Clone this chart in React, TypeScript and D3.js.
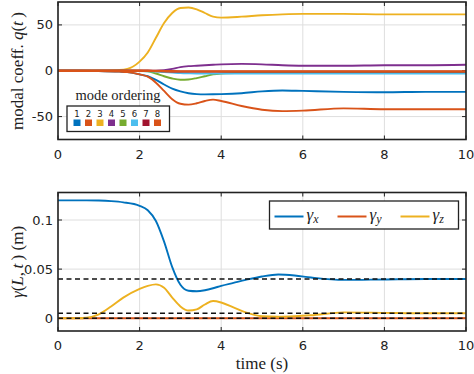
import * as d3 from 'd3';

const W = 474;
const H = 374;

// top panel: modal coefficients
const T1 = [0, 0.5, 1, 1.5, 1.7, 2, 2.2, 2.4, 2.6, 2.8, 3.0, 3.2, 3.4, 3.6, 3.8, 4.0, 4.5, 5, 5.5, 6, 7, 8, 9, 10];
const mode1 = [0, 0, -0.3, -1, -1.5, -4, -6, -10, -15, -19.5, -22.5, -24.5, -25.5, -25.8, -25.7, -25.5, -24.5, -22.5, -21.5, -22, -23, -23.5, -23, -23];
const mode2 = [0, 0, -0.3, -1, -1.5, -4, -6.5, -13, -22, -31, -36, -37, -35.5, -33, -31.5, -33, -38.5, -42.5, -44, -43.5, -41, -42, -42, -42];
const mode3 = [0, 0, 0.2, 0.8, 2, 10, 20, 36, 52, 63, 68.5, 69, 67, 63, 59, 58, 59, 60.5, 61.5, 62, 62, 61.5, 61.5, 61.5];
const mode4 = [0, 0, 0, 0, 0, 0, 0, 0, 0.5, 2, 4, 5, 5.5, 6, 6.5, 7, 7.5, 7, 6, 5.5, 5.5, 6, 6, 6.5];
const mode5 = [0, 0, 0, 0, 0, 0, -0.5, -3, -6, -8.5, -9.8, -9.5, -8, -6, -4, -3, -2.2, -2, -2, -2, -2, -2, -2, -2];
const mode6 = [0, 0, 0, 0, 0, -0.3, -0.6, -1, -1.5, -2, -2.5, -2.8, -3, -3, -3, -3, -3, -3, -3, -3, -3, -3, -3, -3];
const mode7 = [0, 0, 0, 0, 0, 0, 0, -0.3, -0.5, -0.8, -1, -1, -1, -1, -1, -1, -1, -1, -1, -1, -1, -1, -1, -1];
const mode8 = [0, 0, 0, 0, 0, 0, 0, -0.2, -0.4, -0.6, -0.7, -0.7, -0.7, -0.7, -0.7, -0.7, -0.7, -0.7, -0.7, -0.7, -0.7, -0.7, -0.7, -0.7];
const MODES = [mode1, mode2, mode3, mode4, mode5, mode6, mode7, mode8];
const MODE_COLORS = ['#0072BD', '#D95319', '#EDB120', '#7E2F8E', '#77AC30', '#4DBEEE', '#A2142F', '#D95319'];
const MODE_LABELS = ['1', '2', '3', '4', '5', '6', '7', '8'];

// bottom panel: tip deflection
const T2 = [0, 0.5, 0.7, 1, 1.3, 1.6, 2, 2.2, 2.4, 2.6, 2.8, 3.0, 3.2, 3.4, 3.6, 3.8, 4.0, 4.3, 4.6, 5, 5.4, 5.8, 6.2, 7, 8, 9, 10];
const gx = [0.12, 0.12, 0.12, 0.1198, 0.1192, 0.118, 0.1145, 0.11, 0.099, 0.078, 0.052, 0.034, 0.028, 0.0275, 0.0285, 0.0305, 0.033, 0.036, 0.039, 0.0425, 0.0445, 0.0435, 0.0415, 0.039, 0.0395, 0.04, 0.04];
const gy = T2.map(() => 0);
const gz = [0, 0, 0.0005, 0.004, 0.012, 0.021, 0.03, 0.033, 0.0345, 0.031, 0.021, 0.012, 0.0078, 0.009, 0.014, 0.0175, 0.016, 0.011, 0.006, 0.002, 0.0015, 0.002, 0.003, 0.006, 0.0055, 0.005, 0.005];
const GAMMA = [gx, gy, gz];
const GAMMA_COLORS = ['#0072BD', '#D95319', '#EDB120'];
const GAMMA_SUBS = ['x', 'y', 'z'];
const REF_LEVELS = [0.04, 0.005, 0];

const X_TICKS = [0, 2, 4, 6, 8, 10];
const Y1_TICKS = [-50, 0, 50];
const Y2_TICKS = [0, 0.05, 0.1];
const Y2_TICK_LABELS = ['0', '0.05', '0.1'];

const LEFT = 58;
const RIGHT = 466;
const TICK_FONT = '"DejaVu Sans", sans-serif';
const SERIF = '"Liberation Serif", "DejaVu Serif", serif';

const x = d3.scaleLinear().domain([0, 10]).range([LEFT, RIGHT]);
const y1 = d3.scaleLinear().domain([-75, 75]).range([139.5, 2]);
const y2 = d3.scaleLinear().domain([-0.013, 0.128]).range([331, 192.5]);

function Frame({ y, ticks, labels, top, bottom }: { y: d3.ScaleLinear<number, number>; ticks: number[]; labels: string[]; top: number; bottom: number }) {
  return (
    <g>
      {X_TICKS.map((t) => (
        <g key={'x' + t}>
          <line x1={x(t)} x2={x(t)} y1={top} y2={bottom} stroke="#dedede" strokeWidth={1} />
          <line x1={x(t)} x2={x(t)} y1={bottom} y2={bottom - 4} stroke="#222" strokeWidth={1} />
          <line x1={x(t)} x2={x(t)} y1={top} y2={top + 4} stroke="#222" strokeWidth={1} />
          <text x={x(t)} y={bottom + 19} textAnchor="middle" fontFamily={TICK_FONT} fontSize={13} fill="#222">{t}</text>
        </g>
      ))}
      {ticks.map((v, i) => (
        <g key={'y' + v}>
          <line x1={LEFT} x2={RIGHT} y1={y(v)} y2={y(v)} stroke="#dedede" strokeWidth={1} />
          <line x1={LEFT} x2={LEFT + 4} y1={y(v)} y2={y(v)} stroke="#222" strokeWidth={1} />
          <line x1={RIGHT} x2={RIGHT - 4} y1={y(v)} y2={y(v)} stroke="#222" strokeWidth={1} />
          <text x={LEFT - 5} y={y(v) + 4.5} textAnchor="end" fontFamily={TICK_FONT} fontSize={13} fill="#222">{labels[i]}</text>
        </g>
      ))}
    </g>
  );
}

export default function App() {
  const line1 = (vals: number[]) =>
    d3.line<number>().x((_, i) => x(T1[i])).y((d) => y1(d)).curve(d3.curveMonotoneX)(vals) ?? '';
  const line2 = (vals: number[]) =>
    d3.line<number>().x((_, i) => x(T2[i])).y((d) => y2(d)).curve(d3.curveMonotoneX)(vals) ?? '';

  const top1 = y1(75);
  const bot1 = y1(-75);
  const top2 = y2(0.128);
  const bot2 = y2(-0.013);

  const legX0 = 67;
  const legStep = 11.5;

  return (
    <svg width={W} height={H} style={{ position: 'absolute', left: 0, top: 0, background: '#fff' }}>
      <defs>
        <clipPath id="c1"><rect x={LEFT} y={top1} width={RIGHT - LEFT} height={bot1 - top1} /></clipPath>
        <clipPath id="c2"><rect x={LEFT} y={top2} width={RIGHT - LEFT} height={bot2 - top2} /></clipPath>
      </defs>

      {/* top panel */}
      <Frame y={y1} ticks={Y1_TICKS} labels={Y1_TICKS.map(String)} top={top1} bottom={bot1} />
      <g clipPath="url(#c1)">
        {MODES.map((m, i) => (
          <path key={i} d={line1(m)} fill="none" stroke={MODE_COLORS[i]} strokeWidth={i === 7 ? 2.4 : 1.9} />
        ))}
      </g>
      <rect x={LEFT} y={top1} width={RIGHT - LEFT} height={bot1 - top1} fill="none" stroke="#222" strokeWidth={1.6} />

      <text x={118} y={100} textAnchor="middle" fontFamily={SERIF} fontSize={14.5} fill="#222">mode ordering</text>
      <rect x={legX0} y={106} width={102.5} height={25.5} fill="#fff" stroke="#222" strokeWidth={1.3} />
      {MODE_LABELS.map((lab, i) => (
        <g key={lab}>
          <text x={legX0 + 10 + i * legStep} y={117} textAnchor="middle" fontFamily={TICK_FONT} fontSize={8.5} fill="#222">{lab}</text>
          <rect x={legX0 + 6.5 + i * legStep} y={119.5} width={7} height={6.5} fill={MODE_COLORS[i]} />
        </g>
      ))}

      <text transform="translate(23,71) rotate(-90)" textAnchor="middle" fontFamily={SERIF} fontSize={17} fill="#222">
        modal coeff.{'\u00a0'}
        <tspan fontStyle="italic">q</tspan>(<tspan fontStyle="italic">t</tspan>{'\u2009'})
      </text>

      {/* bottom panel */}
      <Frame y={y2} ticks={Y2_TICKS} labels={Y2_TICK_LABELS} top={top2} bottom={bot2} />
      <g clipPath="url(#c2)">
        {GAMMA.map((g, i) => (
          <path key={i} d={line2(g)} fill="none" stroke={GAMMA_COLORS[i]} strokeWidth={1.9} />
        ))}
        {REF_LEVELS.map((v) => (
          <line key={v} x1={LEFT} x2={RIGHT} y1={y2(v)} y2={y2(v)} stroke="#111" strokeWidth={1.4} strokeDasharray="5,3.5" />
        ))}
      </g>
      <rect x={LEFT} y={top2} width={RIGHT - LEFT} height={bot2 - top2} fill="none" stroke="#222" strokeWidth={1.6} />

      <rect x={269.5} y={201} width={189} height={28} fill="#fff" stroke="#222" strokeWidth={1.3} />
      {GAMMA_SUBS.map((s, i) => {
        const lx = 274.5 + i * 63;
        return (
          <g key={s}>
            <line x1={lx} x2={lx + 29} y1={216.5} y2={216.5} stroke={GAMMA_COLORS[i]} strokeWidth={2} />
            <text x={lx + 32} y={220} fontFamily={SERIF} fontSize={17} fill="#222">
              <tspan fontStyle="italic">γ</tspan>
              <tspan fontStyle="italic" fontSize={12} dy={3}>{s}</tspan>
            </text>
          </g>
        );
      })}

      <text transform="translate(23,262) rotate(-90)" textAnchor="middle" fontFamily={SERIF} fontSize={17} fill="#222">
        <tspan fontStyle="italic">γ</tspan>(<tspan fontStyle="italic">L</tspan>,{'\u2009'}<tspan fontStyle="italic">t</tspan>{'\u2009'}){'\u00a0'}(m)
      </text>
      <text x={262} y={369} textAnchor="middle" fontFamily={SERIF} fontSize={17} fill="#222">time (s)</text>
    </svg>
  );
}
